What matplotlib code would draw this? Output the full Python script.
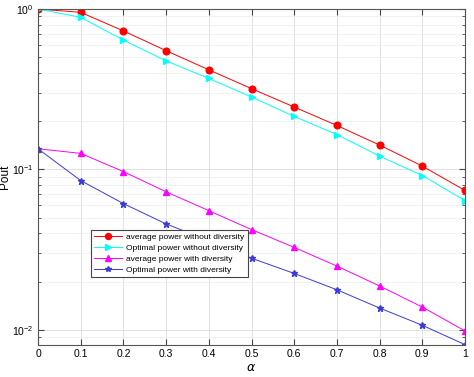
import matplotlib.pyplot as plt
from matplotlib.ticker import LogLocator, NullFormatter

plt.rcParams['font.family'] = ['Liberation Sans', 'DejaVu Sans']

# data
alpha = [0, 0.1, 0.2, 0.3, 0.4, 0.5, 0.6, 0.7, 0.8, 0.9, 1.0]
avg_no_div = [1.0, 0.953, 0.73, 0.55, 0.418, 0.319, 0.245, 0.188, 0.142, 0.105, 0.074]
opt_no_div = [1.0, 0.887, 0.64, 0.475, 0.369, 0.283, 0.214, 0.165, 0.121, 0.0917, 0.064]
avg_div = [0.1346, 0.126, 0.097, 0.0726, 0.0554, 0.0422, 0.0327, 0.025, 0.0188, 0.0139, 0.00986]
opt_div = [0.1346, 0.0853, 0.0613, 0.0458, 0.036, 0.028, 0.0225, 0.0178, 0.0137, 0.0107, 0.0081]

fig = plt.figure(figsize=(4.74, 3.77), dpi=100)
ax = fig.add_axes([38/474, 32/377, 427/474, 336/377])

lw = 0.7
ax.plot(alpha, avg_no_div, '-o', color='red', lw=lw, ms=4.8, label='average power without diversity')
ax.plot(alpha, opt_no_div, '->', color='cyan', lw=lw, ms=4.8, label='Optimal power without diversity')
ax.plot(alpha, avg_div, '-^', color='magenta', lw=lw, ms=4.8, label='average power with diversity')
ax.plot(alpha, opt_div, '-*', color='#3a3ad8', lw=lw, ms=4.5, label='Optimal power with diversity')

ax.set_yscale('log')
ax.set_xlim(0, 1)
ax.set_ylim(0.00806, 1.0)
ax.set_xticks(alpha)
ax.set_xticklabels(['0', '0.1', '0.2', '0.3', '0.4', '0.5', '0.6', '0.7', '0.8', '0.9', '1'])
ax.yaxis.set_minor_locator(LogLocator(base=10, subs=range(2, 10)))
ax.yaxis.set_minor_formatter(NullFormatter())

ax.grid(True, which='major', color='#dcdcdc', lw=0.6)
ax.grid(True, which='minor', axis='y', color='#ececec', lw=0.5)
ax.set_axisbelow(True)
ax.tick_params(which='both', direction='in', top=True, right=True, labelsize=7.5, color='#444444')
ax.tick_params(which='major', length=4, pad=3)
ax.tick_params(which='minor', length=2)
for s in ax.spines.values():
    s.set_color('#555555')
    s.set_linewidth(0.8)

ax.set_xlabel(r'$\alpha$', fontsize=9, labelpad=2)
ax.set_ylabel('Pout', fontsize=8.5)
ax.yaxis.set_label_coords(-0.064, 0.5)

leg = ax.legend(loc='lower left', bbox_to_anchor=(0.124, 0.202), fontsize=6,
                frameon=True, fancybox=False, edgecolor='#444444', framealpha=1,
                borderpad=0.35, labelspacing=0.4, handlelength=3.4, handletextpad=0.5,
                borderaxespad=0, markerscale=0.9)
leg.get_frame().set_linewidth(0.8)

fig.savefig('out.png', dpi=100)
